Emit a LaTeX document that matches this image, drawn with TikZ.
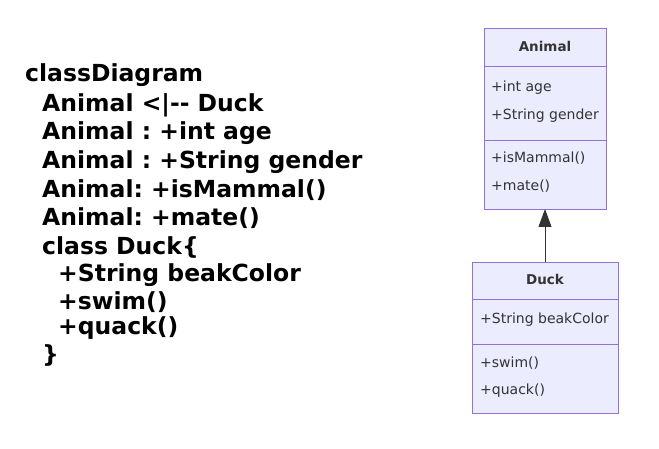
\documentclass[tikz,border=0pt]{standalone}
\usepackage{fontspec}
\setmainfont{DejaVu Sans}
\usetikzlibrary{arrows.meta}
\definecolor{boxfill}{HTML}{ECECFF}
\definecolor{boxline}{HTML}{9370DB}
\definecolor{ink}{HTML}{333333}
\frenchspacing
\tikzset{
    classbox/.style={draw=boxline, fill=boxfill, line width=0.8pt},
    member/.style={anchor=west, inner sep=0pt, text=ink, font=\fontsize{14}{14}\selectfont},
    title/.style={inner sep=0pt, text=ink, font=\fontsize{13.5}{13.5}\selectfont\bfseries},
    code/.style={anchor=west, inner sep=0pt, font=\fontsize{23.5}{23.5}\selectfont\bfseries},
}
\begin{document}
\begin{tikzpicture}[x=1pt, y=-1pt]
    \useasboundingbox[fill=white] (0,0) rectangle (659,449);

    % mermaid source on the left
    \node[code] (l1) at (25,75) {classDiagram};
    \node[code] (l2) at (42,105) {Animal <|-{}- Duck};
    \node[code] (l3) at (42,133) {Animal : +int age};
    \node[code] (l4) at (42,162) {Animal : +String gender};
    \node[code] (l5) at (42,190) {Animal: +isMammal()};
    \node[code] (l6) at (42,218) {Animal: +mate()};
    \node[code] (l7) at (42,247) {class Duck\{};
    \node[code] (l8) at (58,275) {+String beakColor};
    \node[code] (l9) at (58,302) {+swim()};
    \node[code] (l10) at (58,328) {+quack()};
    \node[code] (l11) at (42,355) {\}};

    % class Animal
    \draw[classbox] (484,28) rectangle (606,209);
    \draw[boxline, line width=0.8pt] (484,66) -- (606,66);
    \draw[boxline, line width=0.8pt] (484,140) -- (606,140);
    \node[title] (animal) at (545,46) {Animal};
    \node[member] (age) at (491,88) {+int age};
    \node[member] (gender) at (491,116) {+String gender};
    \node[member] (mammal) at (491,158) {+isMammal()};
    \node[member] (mate) at (491,186) {+mate()};
    \coordinate (animalbot) at (545,209);

    % class Duck
    \draw[classbox] (472,262) rectangle (618,413);
    \draw[boxline, line width=0.8pt] (472,299) -- (618,299);
    \draw[boxline, line width=0.8pt] (472,344) -- (618,344);
    \node[title] (duck) at (545,279) {Duck};
    \node[member] (beak) at (480,320) {+String beakColor};
    \node[member] (swim) at (480,363) {+swim()};
    \node[member] (quack) at (480,391) {+quack()};
    \coordinate (ducktop) at (545,262);

    % inheritance
    \draw[-{Triangle[length=18pt, width=13pt]}, ink, line width=0.8pt] (ducktop) -- (animalbot);
\end{tikzpicture}
\end{document}
